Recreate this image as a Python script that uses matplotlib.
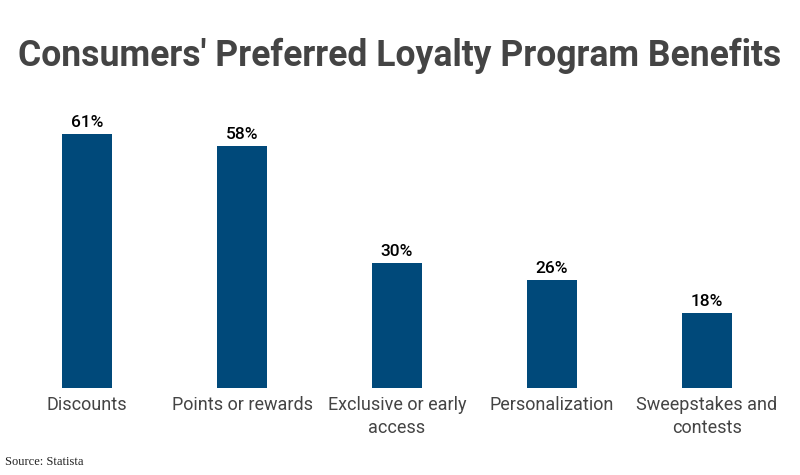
import matplotlib
matplotlib.use("Agg")
import matplotlib.pyplot as plt

# data
categories = ["Discounts", "Points or rewards", "Exclusive or early\naccess",
              "Personalization", "Sweepstakes and\ncontests"]
shares = [61, 58, 30, 26, 18]
title = "Consumers' Preferred Loyalty Program Benefits"
source = "Source: Statista"

bar_color = "#00497A"
text_color = "#444444"

fig = plt.figure(figsize=(8, 4.75), dpi=100)
ax = fig.add_axes([0.0119, 0.1832, 0.96875, 0.6137])

x = range(len(categories))
bars = ax.bar(x, shares, width=0.32, color=bar_color)
ax.set_xlim(-0.5, len(categories) - 0.5)
ax.set_ylim(0, 70)

for b, v in zip(bars, shares):
    ax.text(b.get_x() + b.get_width() / 2, v + 1.0, f"{v}%", ha="center", va="bottom",
            fontsize=12.5, fontfamily="Roboto", fontweight="medium", color="black")

ax.set_xticks(list(x))
ax.set_xticklabels(categories, fontsize=13, fontfamily="Roboto", color=text_color,
                   linespacing=1.3)
ax.tick_params(axis="x", length=0, pad=6)
ax.set_yticks([])
for s in ax.spines.values():
    s.set_visible(False)

fig.text(0.5, 0.882, title, ha="center", va="center", fontsize=25.6,
         fontfamily="Roboto", fontweight="bold", color=text_color)
fig.text(0.006, 0.027, source, ha="left", va="center", fontsize=9,
         fontfamily="Liberation Serif", color="#222222")

fig.savefig("out.png", dpi=100)
